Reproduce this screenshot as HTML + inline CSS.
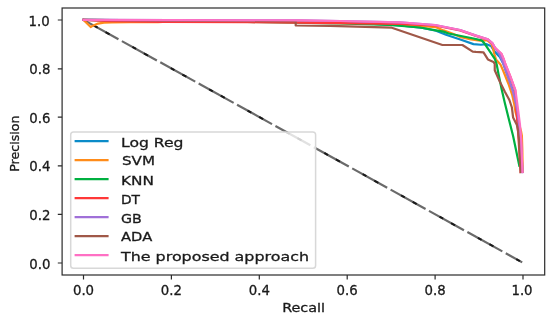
<!DOCTYPE html>
<html>
<head>
<meta charset="utf-8">
<title>Precision-Recall</title>
<style>
html,body{margin:0;padding:0;background:#fff;}
body{width:550px;height:320px;overflow:hidden;}
svg{display:block;filter:blur(0.55px);}
text{font-family:"DejaVu Sans","Liberation Sans",sans-serif;fill:#1a1a1a;stroke:#1a1a1a;stroke-width:0.3px;}
.c{fill:none;stroke-width:2.2;stroke-linejoin:round;stroke-linecap:square;}
</style>
</head>
<body>
<svg width="550" height="320" viewBox="0 0 550 320">
<rect x="0" y="0" width="550" height="320" fill="#ffffff"/>
<g id="plot">
<!-- diagonal -->
<path d="M83.5 19.9 L522.2 262.36" fill="none" stroke="#6a6a6a" stroke-width="2.2" stroke-dasharray="39.95 3.91"/>
<path d="M83.5 19.9 L522.2 262.36" fill="none" stroke="#1a1a1a" stroke-width="2" stroke-dasharray="0 12 4.2 9 4.6 14.06"/>
<!-- Log Reg -->
<path class="c" stroke="#0b8bc8" d="M83.5 19.9 L200 20.5 L340 22 L400 25.5 L422.8 28 L436 30.75 L446 34.75 L461 39.75 L473.5 44.1 L481 44.75 L486 44.1 L491 46 L494.8 51.9 L499.8 56.9 L503 63 L508 77 L513 91 L516 103 L518 115 L521 140 L522.5 172"/>
<!-- SVM -->
<path class="c" stroke="#ff8c1a" d="M83.5 19.9 L90.7 27 L93.5 25.4 L98 23.6 L104 22.7 L112 22.3 L130 22.2 L158 22.1 L168 21.7 L300 22 L340 22.8 L400 24.5 L436 27.25 L443.5 30.4 L452.25 33.5 L461 37.25 L471 39.5 L480 40.6 L487 40.2 L491.5 43.8 L493.3 49 L494 53 L496 59.4 L500.4 64.4 L503.5 71.5 L508.5 84 L512.25 95.25 L514.1 103.4 L515.6 112.5 L518.5 122 L521 131 L521.9 136 L522.3 148.5 L522.7 172"/>
<!-- KNN -->
<path class="c" stroke="#00b040" d="M83.5 19.9 L200 21 L340 23.5 L390 25 L420 27.5 L436 30.4 L443.5 31.6 L448.5 33.5 L461 36 L473.5 38.5 L481.6 40.4 L484.1 42.9 L489.8 51.3 L494.8 58.8 L496.6 64 L498.5 74 L501.6 89 L504.6 102 L508.75 118.75 L513.1 136 L519.3 165.6"/>
<!-- DT -->
<path class="c" stroke="#ff3838" d="M83.5 19.9 L110 21.1 L160 21.8 L250 22.2 L340 23.1 L400 23.9 L435 25.5 L460 30.4 L476 35.9 L487.9 39.7 L492.3 43.4 L494.8 47.7 L501.4 54 L503.9 60 L505.2 64 L510.2 76.5 L515.2 90.25 L516 103 L516.5 112 L518 131 L518.6 140 L520.6 172"/>
<!-- GB -->
<path class="c" stroke="#a070d8" d="M83.5 19.8 L300 20.4 L340 21 L400 22.3 L435 25 L460 30 L476 35.6 L487.9 39.4 L492.3 43.1 L494.8 47.5 L499 53.3 L502 60 L503.5 64 L507.9 76.5 L512.9 91.5 L515.4 101.5 L517.5 112 L519.5 128 L521 142 L522.4 171.9"/>
<!-- ADA -->
<path class="c" stroke="#a05848" stroke-width="1.9" d="M83.5 19.9 L200 20.8 L295.7 21.4 L295.7 25.5 L330 25.8 L391.8 27.7 L442.4 45 L462.4 45 L472.7 51.6 L476 51.9 L483.5 52.3 L487.9 59.4 L493.5 61.9 L494.75 64 L494.75 70.25 L499.75 81.5 L504.75 91.5 L509.4 100 L511.9 107.5 L513.1 117.5 L516.9 125 L518.1 131 L519 140 L520.6 172"/>
<!-- proposed -->
<path class="c" stroke="#ff70c4" stroke-width="2.5" d="M83.5 19.8 L300 20.4 L340 21 L400 22.3 L435 25 L460 30 L476 35.6 L487.9 39.4 L492.3 43.1 L494.8 47.5 L501.6 53.8 L504.1 60 L505.4 64 L510.4 76.5 L515.4 90.25 L517.25 103.4 L518.1 110 L520 125 L521.25 139.4 L522.45 172.2"/>
</g>
<!-- legend -->
<g id="legend">
<rect x="70.7" y="132" width="244.9" height="136.3" rx="2.8" ry="2.8" fill="#ffffff" fill-opacity="0.8" stroke="#d8d8d8" stroke-width="1.5"/>
<g fill="none" stroke-width="2.2">
<path d="M74.6 141.1H108.6" stroke="#0b8bc8"/>
<path d="M74.6 160.1H108.6" stroke="#ff8c1a"/>
<path d="M74.6 179.1H108.6" stroke="#00b040"/>
<path d="M74.6 198.2H108.6" stroke="#ff3838"/>
<path d="M74.6 217.2H108.6" stroke="#a070d8"/>
<path d="M74.6 236.2H108.6" stroke="#a05848"/>
<path d="M74.6 255.2H108.6" stroke="#ff70c4"/>
</g>
<g font-size="12.8px">
<text x="121" y="147.2" textLength="62.5" lengthAdjust="spacingAndGlyphs">Log Reg</text>
<text x="122" y="165.4" textLength="33" lengthAdjust="spacingAndGlyphs">SVM</text>
<text x="121" y="185" textLength="33" lengthAdjust="spacingAndGlyphs">KNN</text>
<text x="121" y="203.5" textLength="19" lengthAdjust="spacingAndGlyphs">DT</text>
<text x="121" y="223" textLength="20.8" lengthAdjust="spacingAndGlyphs">GB</text>
<text x="121" y="241.4" textLength="31.2" lengthAdjust="spacingAndGlyphs">ADA</text>
<text x="121" y="261" textLength="188" lengthAdjust="spacingAndGlyphs">The proposed approach</text>
</g>
</g>
<!-- axes -->
<g id="axes" fill="none" stroke="#2a2a2a" stroke-width="1.2">
<rect x="62.1" y="8" width="482.6" height="267"/>
<path d="M83.5 275v4.6M171.4 275v4.6M259.3 275v4.6M347.2 275v4.6M435.1 275v4.6M523 275v4.6"/>
<path d="M62.1 20h-4.3M62.1 68.9h-4.3M62.1 117.2h-4.3M62.1 165.8h-4.3M62.1 214.4h-4.3M62.1 263h-4.3"/>
</g>
<g font-size="13.3px" text-anchor="middle">
<text x="83.5" y="294.5">0.0</text>
<text x="171.4" y="294.5">0.2</text>
<text x="259.3" y="294.5">0.4</text>
<text x="347.2" y="294.5">0.6</text>
<text x="435.1" y="294.5">0.8</text>
<text x="522" y="294.5">1.0</text>
</g>
<g font-size="13.3px" text-anchor="end">
<text x="49.7" y="25.5">1.0</text>
<text x="50.5" y="74.4">0.8</text>
<text x="50.5" y="122.8">0.6</text>
<text x="50.5" y="171.4">0.4</text>
<text x="50.5" y="220">0.2</text>
<text x="50.5" y="268.5">0.0</text>
</g>
<text x="303.6" y="311.5" font-size="12.7px" text-anchor="middle" textLength="42.8" lengthAdjust="spacingAndGlyphs">Recall</text>
<text transform="translate(19.4 143.7) rotate(-90)" font-size="12.3px" text-anchor="middle" textLength="56.3" lengthAdjust="spacingAndGlyphs">Precision</text>
</svg>
</body>
</html>
